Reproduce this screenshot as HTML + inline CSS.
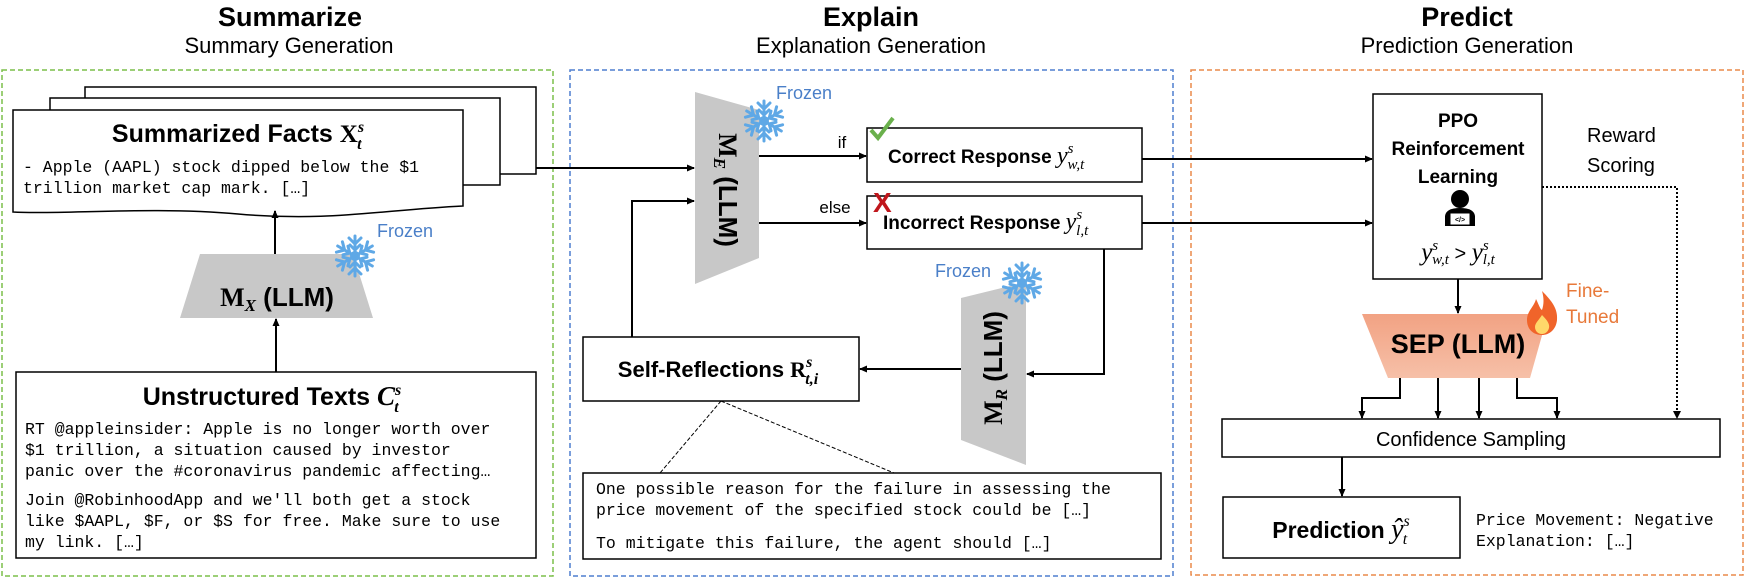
<!DOCTYPE html>
<html><head><meta charset="utf-8"><style>
html,body{margin:0;padding:0;background:#fff;}
svg{display:block;}
.s{font-family:"Liberation Sans",sans-serif;}
.m{font-family:"Liberation Mono",monospace;font-size:16.5px;}
.mi{font-family:"Liberation Serif",serif;font-style:italic;}
</style></head><body>
<svg width="1746" height="581" viewBox="0 0 1746 581" xmlns="http://www.w3.org/2000/svg">
<defs>
<marker id="ah" markerWidth="8" markerHeight="8" refX="7" refY="4" orient="auto" markerUnits="userSpaceOnUse"><path d="M0,0.5 L8,4 L0,7.5 z" fill="#000"/></marker>
<linearGradient id="sep" x1="0" y1="0" x2="0" y2="1"><stop offset="0" stop-color="#f2a283"/><stop offset="1" stop-color="#f6c0a8"/></linearGradient>
<g id="flake" stroke="#5fa8e6" stroke-width="3" stroke-linecap="round" fill="none">
<g id="arm"><line x1="0" y1="0" x2="0" y2="-20"/><line x1="0" y1="-12" x2="-6" y2="-18"/><line x1="0" y1="-12" x2="6" y2="-18"/><line x1="0" y1="-6" x2="-5" y2="-11"/><line x1="0" y1="-6" x2="5" y2="-11"/></g>
<use href="#arm" transform="rotate(60)"/><use href="#arm" transform="rotate(120)"/><use href="#arm" transform="rotate(180)"/><use href="#arm" transform="rotate(240)"/><use href="#arm" transform="rotate(300)"/>
<circle r="4" stroke-width="2"/>
</g>
</defs>

<g class="s" text-anchor="middle">
<text x="290" y="26" font-size="27" font-weight="bold">Summarize</text>
<text x="289" y="53" font-size="22">Summary Generation</text>
<text x="871" y="26" font-size="27" font-weight="bold">Explain</text>
<text x="871" y="53" font-size="22">Explanation Generation</text>
<text x="1467" y="26" font-size="27" font-weight="bold">Predict</text>
<text x="1467" y="53" font-size="22">Prediction Generation</text>
</g>

<rect x="2" y="70" width="551" height="506" fill="none" stroke="#7cbf4a" stroke-width="1.5" stroke-dasharray="5,3"/>
<rect x="570" y="70" width="603" height="506" fill="none" stroke="#4f7fcf" stroke-width="1.5" stroke-dasharray="5,3"/>
<rect x="1191" y="70" width="552" height="505" fill="none" stroke="#ea8a4a" stroke-width="1.5" stroke-dasharray="5,3"/>

<rect x="85" y="87" width="451" height="87" fill="#fff" stroke="#000" stroke-width="1.5"/>
<rect x="50" y="98" width="450" height="87" fill="#fff" stroke="#000" stroke-width="1.5"/>
<path d="M13,110 H463 V206 C380,210 330,222 238,214 C150,206 60,215 13,212 Z" fill="#fff" stroke="#000" stroke-width="1.5"/>
<text x="238" y="142" text-anchor="middle" class="s" font-size="25" font-weight="bold">Summarized Facts <tspan font-family="Liberation Serif">X</tspan><tspan class="mi" font-size="16" dy="-10">s</tspan><tspan class="mi" font-size="16" dx="-7" dy="17">t</tspan></text>
<text x="23" y="172" class="m">- Apple (AAPL) stock dipped below the $1</text>
<text x="23" y="193" class="m">trillion market cap mark. […]</text>

<line x1="275" y1="254" x2="275" y2="211" stroke="#000" stroke-width="2" marker-end="url(#ah)"/>
<polygon points="200,254 353,254 373,318 180,318" fill="#c8c8c8"/>
<text x="277" y="306" text-anchor="middle" font-size="26" font-weight="bold"><tspan font-family="Liberation Serif">M</tspan><tspan class="mi" font-size="17" dy="5">X</tspan><tspan class="s" dy="-5"> (LLM)</tspan></text>
<use href="#flake" x="355" y="256"/>
<text x="377" y="237" class="s" font-size="18" fill="#4a7fc8">Frozen</text>

<line x1="276" y1="372" x2="276" y2="319" stroke="#000" stroke-width="2" marker-end="url(#ah)"/>
<rect x="16" y="372" width="520" height="186" fill="#fff" stroke="#000" stroke-width="1.5"/>
<text x="272" y="405" text-anchor="middle" class="s" font-size="25" font-weight="bold">Unstructured Texts <tspan class="mi" font-size="27">C</tspan><tspan class="mi" font-size="16" dy="-10">s</tspan><tspan class="mi" font-size="16" dx="-7" dy="17">t</tspan></text>
<g class="m">
<text x="25" y="434">RT @appleinsider: Apple is no longer worth over</text>
<text x="25" y="455">$1 trillion, a situation caused by investor</text>
<text x="25" y="476">panic over the #coronavirus pandemic affecting…</text>
<text x="25" y="505">Join @RobinhoodApp and we'll both get a stock</text>
<text x="25" y="526">like $AAPL, $F, or $S for free. Make sure to use</text>
<text x="25" y="547">my link. […]</text>
</g>

<line x1="536" y1="168" x2="694" y2="168" stroke="#000" stroke-width="2" marker-end="url(#ah)"/>

<polygon points="695,92 759,110 759,258 695,284" fill="#c8c8c8"/>
<text transform="translate(719,190) rotate(90)" text-anchor="middle" font-size="26" font-weight="bold"><tspan font-family="Liberation Serif">M</tspan><tspan class="mi" font-size="17" dy="5">E</tspan><tspan class="s" dy="-5"> (LLM)</tspan></text>
<use href="#flake" x="764" y="121"/>
<text x="776" y="99" class="s" font-size="18" fill="#4a7fc8">Frozen</text>

<text x="842" y="148" text-anchor="middle" class="s" font-size="17">if</text>
<line x1="759" y1="156" x2="866" y2="156" stroke="#000" stroke-width="2" marker-end="url(#ah)"/>
<text x="835" y="213" text-anchor="middle" class="s" font-size="17">else</text>
<line x1="759" y1="223" x2="866" y2="223" stroke="#000" stroke-width="2" marker-end="url(#ah)"/>

<rect x="867" y="128" width="275" height="54" fill="#fff" stroke="#000" stroke-width="1.5"/>
<rect x="867" y="196" width="275" height="53" fill="#fff" stroke="#000" stroke-width="1.5"/>
<path d="M871,130 L878,138 L893,118" fill="none" stroke="#6ab04c" stroke-width="4"/>
<text x="873" y="212" class="s" font-size="28" font-weight="bold" fill="#c0161c">X</text>
<text x="888" y="163" class="s" font-size="19" font-weight="bold">Correct Response <tspan class="mi" font-size="24" font-weight="normal">y</tspan><tspan class="mi" font-size="15" font-weight="normal" dy="-10">s</tspan><tspan class="mi" font-size="15" font-weight="normal" dx="-6" dy="16">w,t</tspan></text>
<text x="883" y="229" class="s" font-size="19" font-weight="bold">Incorrect Response <tspan class="mi" font-size="24" font-weight="normal">y</tspan><tspan class="mi" font-size="15" font-weight="normal" dy="-10">s</tspan><tspan class="mi" font-size="15" font-weight="normal" dx="-6" dy="16">l,t</tspan></text>

<line x1="1142" y1="159" x2="1372" y2="159" stroke="#000" stroke-width="2" marker-end="url(#ah)"/>
<line x1="1142" y1="223" x2="1372" y2="223" stroke="#000" stroke-width="2" marker-end="url(#ah)"/>

<polyline points="1104,249 1104,374 1027,374" fill="none" stroke="#000" stroke-width="2" marker-end="url(#ah)"/>
<polygon points="961,298 1026,282 1026,465 961,440" fill="#c8c8c8"/>
<text transform="translate(1002,368) rotate(-90)" text-anchor="middle" font-size="26" font-weight="bold"><tspan font-family="Liberation Serif">M</tspan><tspan class="mi" font-size="17" dy="5">R</tspan><tspan class="s" dy="-5"> (LLM)</tspan></text>
<use href="#flake" x="1022" y="283"/>
<text x="935" y="277" class="s" font-size="18" fill="#4a7fc8">Frozen</text>

<line x1="961" y1="369" x2="860" y2="369" stroke="#000" stroke-width="2" marker-end="url(#ah)"/>
<rect x="583" y="337" width="276" height="64" fill="#fff" stroke="#000" stroke-width="1.5"/>
<text x="718" y="377" text-anchor="middle" class="s" font-size="22" font-weight="bold">Self-Reflections <tspan font-family="Liberation Serif">R</tspan><tspan class="mi" font-size="16" dy="-10">s</tspan><tspan class="mi" font-size="16" dx="-7" dy="17">t,i</tspan></text>
<polyline points="632,337 632,201 694,201" fill="none" stroke="#000" stroke-width="2" marker-end="url(#ah)"/>
<line x1="721" y1="401" x2="660" y2="473" stroke="#000" stroke-width="1" stroke-dasharray="4,2"/>
<line x1="721" y1="401" x2="894" y2="473" stroke="#000" stroke-width="1" stroke-dasharray="4,2"/>
<rect x="583" y="473" width="578" height="86" fill="#fff" stroke="#000" stroke-width="1.5"/>
<g class="m">
<text x="596" y="494">One possible reason for the failure in assessing the</text>
<text x="596" y="515">price movement of the specified stock could be […]</text>
<text x="596" y="548">To mitigate this failure, the agent should […]</text>
</g>

<rect x="1373" y="94" width="169" height="185" fill="#fff" stroke="#000" stroke-width="1.5"/>
<g class="s" font-weight="bold" font-size="19" text-anchor="middle">
<text x="1458" y="127">PPO</text>
<text x="1458" y="155">Reinforcement</text>
<text x="1458" y="183">Learning</text>
</g>
<circle cx="1460" cy="199" r="9" fill="#000"/>
<path d="M1445,226 V216 Q1446,208 1460,208 Q1474,208 1475,216 V226 Z" fill="#000"/>
<rect x="1450" y="213" width="20" height="12" fill="#fff" stroke="#000" stroke-width="1"/>
<text x="1460" y="222" text-anchor="middle" font-size="7" class="s" font-weight="bold">&lt;/&gt;</text>
<text x="1458" y="260" text-anchor="middle" class="mi" font-size="25">y<tspan font-size="15" dy="-10">s</tspan><tspan font-size="15" dx="-6" dy="14">w,t</tspan><tspan font-style="normal" class="s" dy="-4" font-size="20"> &gt; </tspan>y<tspan font-size="15" dy="-10">s</tspan><tspan font-size="15" dx="-6" dy="14">l,t</tspan></text>

<text x="1587" y="142" class="s" font-size="20">Reward</text>
<text x="1587" y="172" class="s" font-size="20">Scoring</text>
<polyline points="1542,187 1677,187 1677,417" fill="none" stroke="#000" stroke-width="2" stroke-dasharray="2,2"/>
<path d="M1673,411 L1677,419 L1681,411 z" fill="#000"/>

<line x1="1458" y1="279" x2="1458" y2="313" stroke="#000" stroke-width="2" marker-end="url(#ah)"/>
<polygon points="1362,314 1548,314 1530,378 1388,378" fill="url(#sep)"/>
<text x="1458" y="353" text-anchor="middle" class="s" font-size="27" font-weight="bold">SEP (LLM)</text>
<g transform="translate(1542,313)">
<path d="M0,-22 C10,-12 16,-4 15,7 C14,17 7,22 0,22 C-9,22 -15,16 -15,7 C-15,-2 -8,-6 -6,-14 C-3,-8 -2,-4 0,-3 C2,-9 2,-15 0,-22 Z" fill="#f0642a"/>
<path d="M0,2 C5,7 8,11 7,15 C6,19 3,21 0,21 C-4,21 -7,18 -7,14 C-7,10 -3,7 0,2 Z" fill="#ffd86a"/>
</g>
<text x="1566" y="297" class="s" font-size="19" fill="#e8793a">Fine-</text>
<text x="1566" y="323" class="s" font-size="19" fill="#e8793a">Tuned</text>

<g fill="none" stroke="#000" stroke-width="2">
<polyline points="1400,378 1400,398 1362,398 1362,418" marker-end="url(#ah)"/>
<line x1="1438" y1="378" x2="1438" y2="418" marker-end="url(#ah)"/>
<line x1="1479" y1="378" x2="1479" y2="418" marker-end="url(#ah)"/>
<polyline points="1517,378 1517,398 1557,398 1557,418" marker-end="url(#ah)"/>
</g>
<rect x="1222" y="419" width="498" height="38" fill="#fff" stroke="#000" stroke-width="1.5"/>
<text x="1471" y="446" text-anchor="middle" class="s" font-size="20">Confidence Sampling</text>

<line x1="1342" y1="457" x2="1342" y2="496" stroke="#000" stroke-width="2" marker-end="url(#ah)"/>
<rect x="1223" y="497" width="237" height="61" fill="#fff" stroke="#000" stroke-width="1.5"/>
<text x="1341" y="538" text-anchor="middle" class="s" font-size="23" font-weight="bold">Prediction <tspan class="mi" font-weight="normal" font-size="28">ŷ</tspan><tspan class="mi" font-weight="normal" font-size="16" dy="-12">s</tspan><tspan class="mi" font-weight="normal" font-size="16" dx="-7" dy="18">t</tspan></text>
<text x="1476" y="525" class="m">Price Movement: Negative</text>
<text x="1476" y="546" class="m">Explanation: […]</text>
</svg>
</body></html>
